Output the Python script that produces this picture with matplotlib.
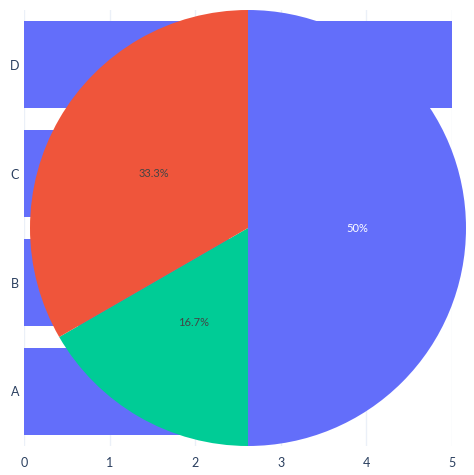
import matplotlib
matplotlib.use("Agg")
import matplotlib.pyplot as plt

categories = ["A", "B", "C", "D"]
bar_values = [2, 3, 4, 5]
pie_labels = ["X", "Y", "Z"]
pie_values = [3, 1, 2]
pie_colors = ["#636EFA", "#00CC96", "#EF553B"]

plt.rcParams['font.family'] = ['Lato', 'DejaVu Sans']
W, H = 474, 475
fig = plt.figure(figsize=(W/100, H/100), dpi=100)
ax = fig.add_axes([24/W, 1-446/H, (452-24)/W, (446-10)/H])
ax.barh(categories, bar_values, height=0.8, color="#636EFA", zorder=2)
ax.set_xlim(0, 5)
ax.set_ylim(-0.5, 3.5)
ax.set_xticks(range(6))
ax.grid(axis="x", color="#EBF0F8", lw=1, zorder=0)
for s in ax.spines.values():
    s.set_visible(False)
ax.tick_params(length=0, labelsize=9, colors="#2a3f5f")
ax.tick_params(axis="x", pad=8)

r = 218
pax = fig.add_axes([(248-r)/W, 1-(228+r)/H, 2*r/W, 2*r/H])
wedges, texts = pax.pie(pie_values, colors=pie_colors, startangle=90, counterclock=False,
                        radius=1, autopct=None)
pct = [v/sum(pie_values)*100 for v in pie_values]
import numpy as np
ang = 90
for w, p in zip(wedges, pct):
    mid = np.deg2rad((w.theta1 + w.theta2) / 2)
    lab = f"{p:.1f}%".replace(".0%", "%")
    col = "white" if w.get_facecolor()[2] > 0.9 else "#2a3f5f"
    pax.text(0.5*np.cos(mid), 0.5*np.sin(mid), lab, ha="center", va="center",
             fontsize=8, color="white" if lab == "50%" else "#444444")
pax.set_xlim(-1, 1); pax.set_ylim(-1, 1)
pax.set_aspect("equal")
pax.axis("off")
fig.savefig("out.png", dpi=100)
